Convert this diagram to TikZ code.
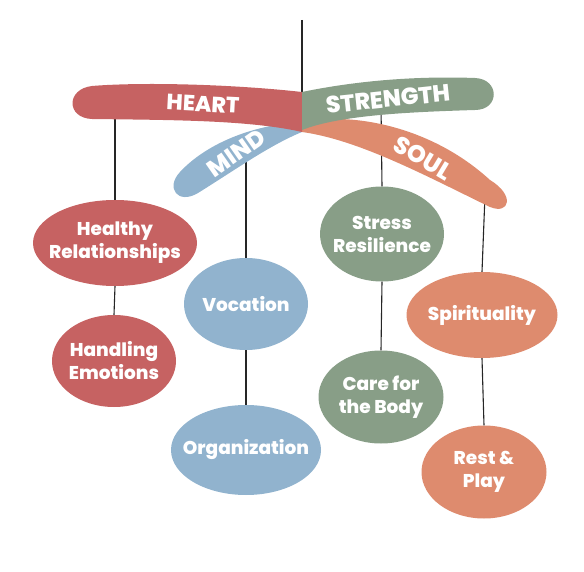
\documentclass[tikz,border=0pt]{standalone}
\usepackage{fontspec}
\usetikzlibrary{shapes.geometric}
\setmainfont{Poppins}[BoldFont={Poppins ExtraBold}]
\definecolor{cheart}{HTML}{C66262}
\definecolor{cstr}{HTML}{889E87}
\definecolor{cmind}{HTML}{91B3CE}
\definecolor{csoul}{HTML}{DE8B6E}
\tikzset{
  leaf/.style={ellipse, inner sep=0pt},
  leaftext/.style={inner sep=0pt, align=center, text=white, font=\bfseries\fontsize{18.5}{23}\selectfont},
  banner/.style={text=white, font=\bfseries\fontsize{22}{24}\selectfont, inner sep=0pt},
  hang/.style={draw=black!85, line width=1.1pt},
}
\begin{document}
\begin{tikzpicture}[x=1pt,y=-1pt]
\useasboundingbox (0,0) rectangle (584,572);
% anchor coordinates on banners
\coordinate (top) at (302,20);
\coordinate (mid) at (302,95);
\coordinate (ha) at (115,110);
\coordinate (ma) at (246,160);
\coordinate (sa) at (381,105);
\coordinate (oa) at (485,195);
% leaf shapes
\node[leaf, fill=cheart, minimum width=164pt, minimum height=86pt] (hr) at (115,243) {};
\node[leaf, fill=cheart, minimum width=124pt, minimum height=92pt] (he) at (114,361) {};
\node[leaf, fill=cmind, minimum width=124pt, minimum height=92pt] (vo) at (246,304) {};
\node[leaf, fill=cmind, minimum width=150pt, minimum height=90pt] (or) at (246,450) {};
\node[leaf, fill=cstr, minimum width=124pt, minimum height=95pt] (sr) at (382,234) {};
\node[leaf, fill=cstr, minimum width=125pt, minimum height=93pt] (cb) at (381,397) {};
\node[leaf, fill=csoul, minimum width=151pt, minimum height=86pt] (sp) at (482,315) {};
\node[leaf, fill=csoul, minimum width=125pt, minimum height=93pt] (rp) at (484,472) {};
% leaf texts
\node[leaftext] (hrt) at (hr) {Healthy\\Relationships};
\node[leaftext] (het) at (he) {Handling\\Emotions};
\node[leaftext] (vot) at (vo) {Vocation};
\node[leaftext] (ort) at (or) {Organization};
\node[leaftext] (srt) at (sr) {Stress\\Resilience};
\node[leaftext] (cbt) at (cb) {Care for\\the Body};
\node[leaftext] (spt) at (sp) {Spirituality};
\node[leaftext] (rpt) at (rp) {Rest \&\\Play};
% hanging lines
\draw[hang] (top) -- (mid);
\draw[hang] (ha) -- (hr.north);
\draw[hang] (hr.south) -- (he.north);
\draw[hang] (ma) -- (vo.north);
\draw[hang] (vo.south) -- (or.north);
\draw[hang] (sa) -- (sr.north);
\draw[hang] (sr.south) -- (cb.north);
\draw[hang] (oa) -- (sp.north);
\draw[hang] (sp.south) -- (rp.north);
% banners
\fill[cmind] (302,122) .. controls (250,125) and (205,145) .. (180,172)
  .. controls (165,188) and (178,205) .. (198,193)
  .. controls (235,170) and (270,145) .. (302,132) -- cycle;
\fill[csoul] (302,122) .. controls (350,112) and (430,125) .. (490,180)
  .. controls (515,195) and (510,215) .. (490,207)
  .. controls (430,178) and (360,140) .. (302,132) -- cycle;
\fill[cheart] (302,92) .. controls (230,84) and (140,82) .. (92,86)
  .. controls (66,89) and (66,118) .. (92,119)
  .. controls (170,120) and (250,120) .. (302,132) -- cycle;
\fill[cstr] (302,92) .. controls (360,80) and (420,76) .. (475,78)
  .. controls (500,79) and (500,110) .. (475,110)
  .. controls (410,112) and (340,115) .. (302,130) -- cycle;
\node[banner, rotate=-3] (lh) at (203,104) {HEART};
\node[banner, rotate=6, font=\bfseries\fontsize{23.5}{24}\selectfont] (ls) at (388,99) {STRENGTH};
\node[banner, rotate=35, font=\bfseries\fontsize{23.5}{24}\selectfont] (lm) at (236,153) {MIND};
\node[banner, rotate=-31, font=\bfseries\fontsize{24}{24}\selectfont] (lo) at (423,158) {SOUL};
\end{tikzpicture}
\end{document}
